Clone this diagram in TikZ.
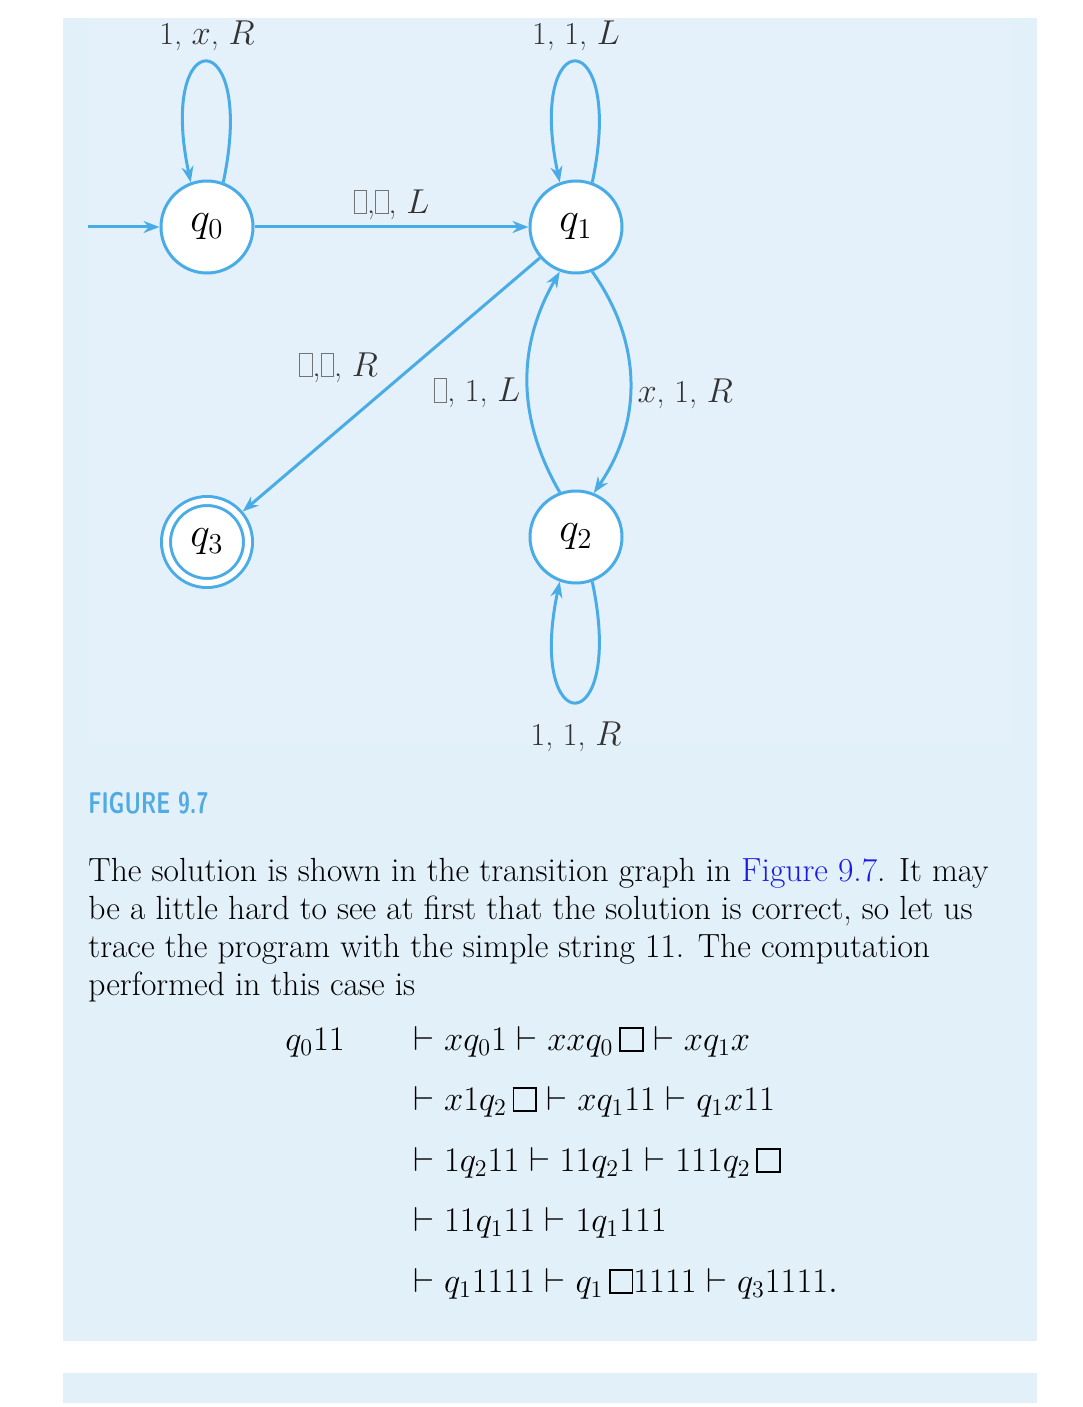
\documentclass[tikz,border=0pt]{standalone}
\usepackage{amsmath}
\usepackage{amssymb}
\usepackage{tikz}
\usetikzlibrary{arrows.meta,positioning}
\usepackage{xcolor}
\definecolor{panelc}{RGB}{226,240,250}
\definecolor{graphc}{RGB}{228,241,251}
\definecolor{edgec}{RGB}{74,172,230}
\definecolor{capc}{RGB}{82,170,226}
\definecolor{linkc}{RGB}{25,25,225}
% missing-glyph box of the edge labels, and the blank of the computation
\newcommand{\tofu}{\mbox{\color{black!55}\fboxsep=0pt\fboxrule=0.5pt\fbox{\rule{0pt}{0.7em}\hspace{0.36em}}}}
\newcommand{\bsq}{\mbox{\fboxsep=0pt\fboxrule=0.8pt\fbox{\rule{0pt}{0.62em}\hspace{0.62em}}}}
\tikzset{
  st/.style={circle,draw=edgec,fill=white,line width=1.5pt,minimum size=46pt,inner sep=0pt,font=\fontsize{20}{22}\selectfont},
  acc/.style={st,minimum size=41pt,double=white,double distance=3pt,outer sep=3pt},
  trans/.style={-{Stealth[length=8pt,width=6pt]},edgec,line width=1.5pt},
  lbl/.style={font=\fontsize{16}{18}\selectfont,text=black!80,inner sep=3pt},
  drv/.style={anchor=base west,inner sep=0pt,font=\fontsize{17}{20}\selectfont},
}
\begin{document}
\begin{tikzpicture}[x=0.5pt,y=0.5pt]
  \fill[white] (0,0) rectangle (1082,-1407);
  \fill[panelc] (63,-18) rectangle (1037,-1341);
  \fill[graphc] (88,-18) rectangle (1010,-745);
  \fill[panelc] (63,-1373) rectangle (1037,-1403);
  \useasboundingbox (0,0) rectangle (1082,-1407);

  % states
  \node[st] (q0) at (207,-227) {$q_0$};
  \node[st] (q1) at (576,-227) {$q_1$};
  \node[st] (q2) at (576,-537) {$q_2$};
  \node[acc] (q3) at (207,-542) {$q_3$};
  \coordinate (start) at (88,-227);

  % transitions
  \draw[trans] (start) -- (q0);
  \draw[trans] (q0) -- node[lbl,above] {\tofu,\tofu, $L$} (q1);
  \draw[trans] (q1) -- node[lbl,pos=0.52,above left] {\tofu,\tofu, $R$} (q3);
  \draw[trans] (q2.110) to[bend left=30] node[lbl,pos=0.45,left] {\tofu, 1, $L$} (q1.250);
  \draw[trans] (q1.290) to[bend left=35] node[lbl,pos=0.55,right] {$x$, 1, $R$} (q2.68);
  \draw[trans] (q0.70) to[out=78,in=102,distance=82pt] node[lbl,above=2pt] {1, $x$, $R$} (q0.110);
  \draw[trans] (q1.70) to[out=78,in=102,distance=82pt] node[lbl,above=2pt] {1, 1, $L$} (q1.110);
  \draw[trans] (q2.290) to[out=-78,in=-102,distance=82pt] node[lbl,below=6pt] {1, 1, $R$} (q2.250);

  % caption and text
  \node[anchor=base west,inner sep=0pt,text=capc] (cap) at (88,-813)
    {\scalebox{0.72}[1]{\fontsize{15}{17}\selectfont\sffamily\bfseries FIGURE 9.7}};
  \node[anchor=base west,inner sep=0pt,align=left,font=\fontsize{16.75}{18.85}\selectfont] (body) at (88,-995)
    {The solution is shown in the transition graph in \textcolor{linkc}{Figure 9.7}. It may\\
     be a little hard to see at first that the solution is correct, so let us\\
     trace the program with the simple string 11. The computation\\
     performed in this case is};

  % computation
  \node[drv] (r0) at (285,-1050) {$q_0 11$};
  \node[drv] (r1) at (413,-1050) {$\vdash xq_0 1 \vdash xxq_0\,\bsq \vdash xq_1x$};
  \node[drv] (r2) at (413,-1110) {$\vdash x1q_2\,\bsq \vdash xq_1 11 \vdash q_1x11$};
  \node[drv] (r3) at (413,-1171) {$\vdash 1q_2 11 \vdash 11q_2 1 \vdash 111q_2\,\bsq$};
  \node[drv] (r4) at (413,-1231) {$\vdash 11q_1 11 \vdash 1q_1 111$};
  \node[drv] (r5) at (413,-1292) {$\vdash q_1 1111 \vdash q_1\,\bsq 1111 \vdash q_3 1111.$};
\end{tikzpicture}
\end{document}
